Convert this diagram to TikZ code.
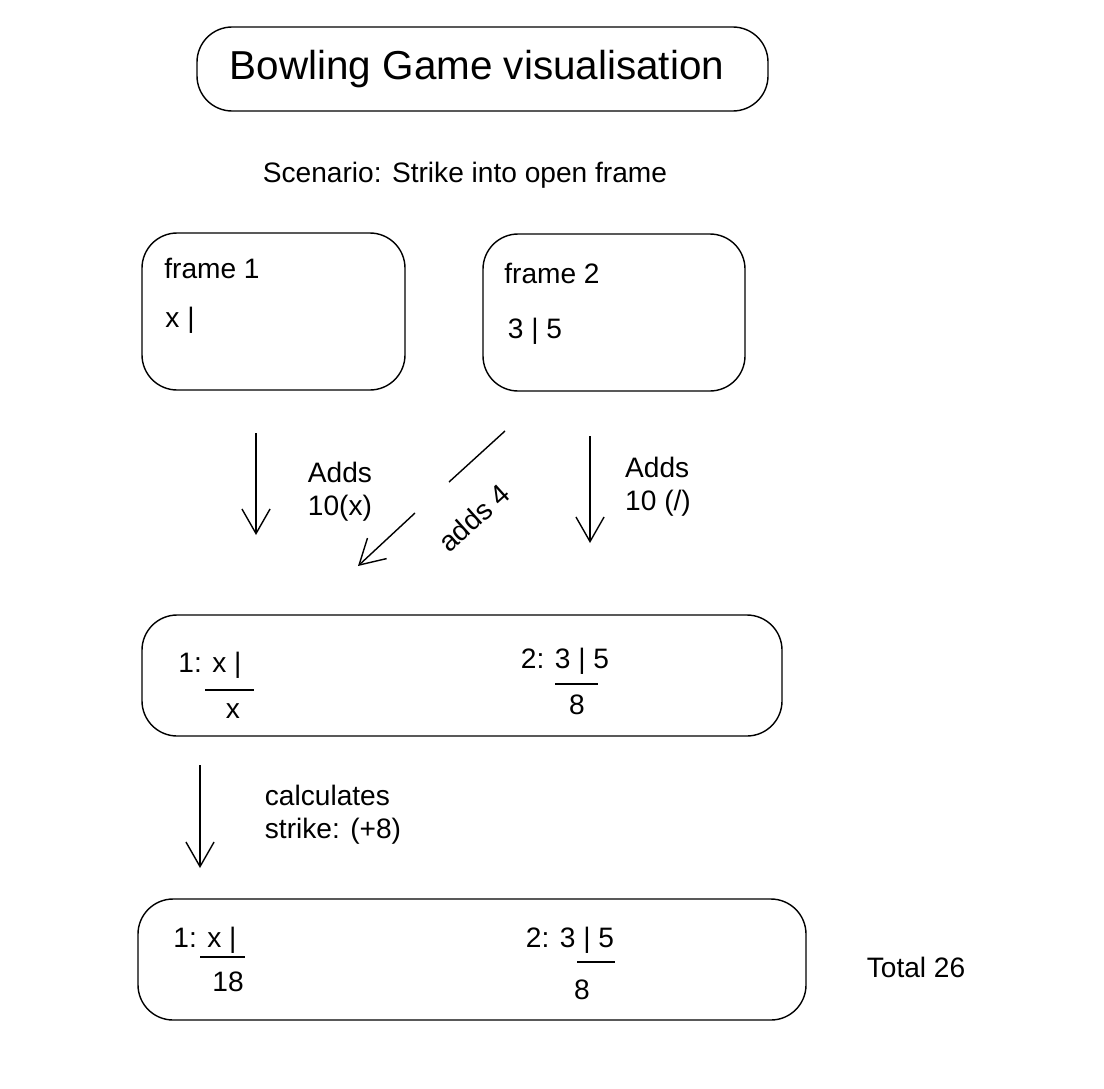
\documentclass[tikz,border=0pt]{standalone}
\usepackage{fontspec}
\setmainfont{Liberation Sans}
\usetikzlibrary{positioning}
\usetikzlibrary{arrows.meta}
\tikzstyle{box}  = [
    draw,
    thick,
    rounded corners=20pt
]
\tikzstyle{flow}  = [
    draw,
    ->,
    >={Straight Barb[length=14pt,width=16pt]},
    thick
]
\tikzstyle{lbl}  = [
    font=\fontsize{16}{19}\selectfont,
    align=left
]
\begin{document}
\begin{tikzpicture}[x=0.02cm, y=-0.02cm]
\useasboundingbox (0,0) rectangle (1104,1088);

\draw[box] (197,27) rectangle (768,111);
\node[font=\fontsize{23}{28}\selectfont] (title) at (477,69) {Bowling Game visualisation};
\node[lbl] (scen) at (465,175) {Scenario: Strike into open frame};

\draw[box] (142,233) rectangle (405,390);
\node[lbl] (f1) at (212,268) {frame 1};
\node[lbl] (f1s) at (180,320) {x |};
\draw[box] (483,234) rectangle (745,391);
\node[lbl] (f2) at (552,273) {frame 2};
\node[lbl] (f2s) at (535,331) {3 | 5};

\coordinate (a1s) at (256,433); \coordinate (a1e) at (256,535);
\draw[flow] (a1s) -- (a1e);
\node[lbl] (l1) at (340,492) {Adds\\10(x)};
\coordinate (d1) at (449,482); \coordinate (d2) at (505,431);
\draw[thick] (d1) -- (d2);
\coordinate (a2s) at (415,513); \coordinate (a2e) at (358,566);
\draw[flow] (a2s) -- (a2e);
\node[lbl, rotate=42] (l2) at (474,518) {adds 4};
\coordinate (a3s) at (590,436); \coordinate (a3e) at (590,543);
\draw[flow] (a3s) -- (a3e);
\node[lbl] (l3) at (658,487) {Adds\\10 (/)};

\draw[box] (142,615) rectangle (782,736);
\node[lbl] (r1) at (210,665) {1: x |};
\coordinate (u1a) at (205,690); \coordinate (u1b) at (254,690);
\draw[thick] (u1a) -- (u1b);
\node[lbl] (r1s) at (233,711) {x};
\node[lbl] (r2) at (565,661) {2: 3 | 5};
\coordinate (u2a) at (555,684); \coordinate (u2b) at (598,684);
\draw[thick] (u2a) -- (u2b);
\node[lbl] (r2s) at (577,705) {8};

\coordinate (a4s) at (200,765); \coordinate (a4e) at (200,868);
\draw[flow] (a4s) -- (a4e);
\node[lbl] (l4) at (333,815) {calculates\\strike: (+8)};

\draw[box] (138,899) rectangle (806,1020);
\node[lbl] (t1) at (205,940) {1: x |};
\coordinate (u3a) at (200,957); \coordinate (u3b) at (245,957);
\draw[thick] (u3a) -- (u3b);
\node[lbl] (t1s) at (228,982) {18};
\node[lbl] (t2) at (570,940) {2: 3 | 5};
\coordinate (u4a) at (577,962); \coordinate (u4b) at (615,962);
\draw[thick] (u4a) -- (u4b);
\node[lbl] (t2s) at (582,990) {8};
\node[lbl] (tot) at (916,967) {Total 26};
\end{tikzpicture}
\end{document}
